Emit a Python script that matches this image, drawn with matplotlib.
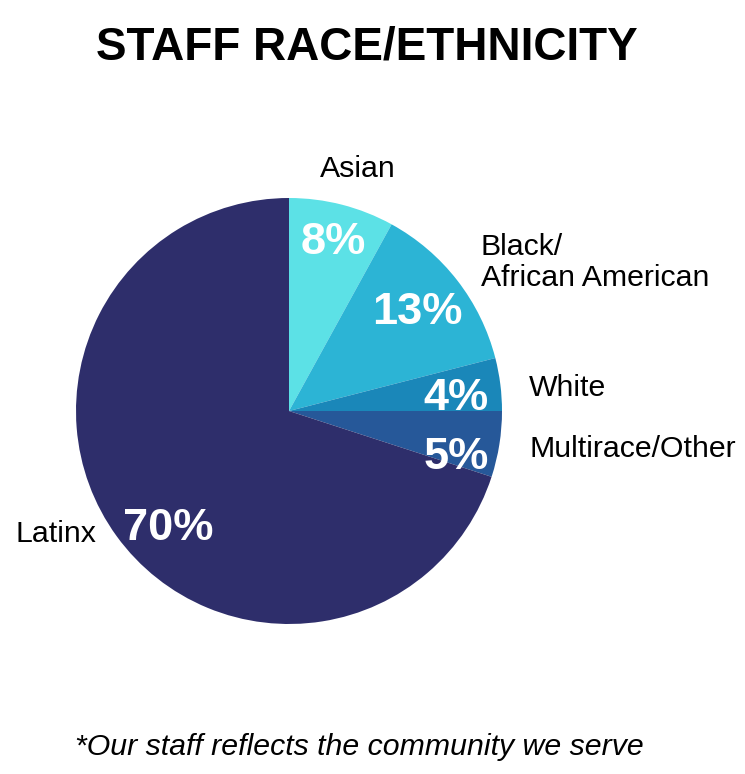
import matplotlib
matplotlib.use('Agg')
import matplotlib.pyplot as plt
import numpy as np

groups = ['Asian', 'Black/\nAfrican American', 'White', 'Multirace/Other', 'Latinx']
shares = [8, 13, 4, 5, 70]
colors = ['#5ce1e6', '#2cb4d5', '#1a87b9', '#265899', '#2e2e6b']

plt.rcParams['font.family'] = ['Liberation Sans', 'DejaVu Sans']

W, H = 745, 774
fig = plt.figure(figsize=(W / 100, H / 100), dpi=100)
cx, cy, r = 289, 411, 213
ax = fig.add_axes([(cx - r) / W, (H - cy - r) / H, 2 * r / W, 2 * r / H])

wedges, _ = ax.pie(shares, colors=colors, startangle=90, counterclock=False,
                   radius=1, wedgeprops=dict(linewidth=0))
ax.set_xlim(-1, 1)
ax.set_ylim(-1, 1)
ax.set_aspect('equal')
ax.axis('off')

# percent labels: (distance from centre, angle shift in degrees)
pct_pos = [(0.84, 0), (0.775, 1), (0.79, -1.5), (0.81, -5), (0.775, 7)]
total = sum(shares)
for w, v, (d, shift) in zip(wedges, shares, pct_pos):
    mid = np.deg2rad((w.theta1 + w.theta2) / 2 + shift)
    ax.text(d * np.cos(mid), d * np.sin(mid), f'{round(100 * v / total)}%',
            color='white', fontsize=32.5, fontweight='bold',
            ha='center', va='center_baseline')

# outer labels
lab_pos = [(0.324, 1.150, 'center'), (0.901, 0.717, 'left'), (1.127, 0.122, 'left'),
           (1.127, -0.164, 'left'), (-1.286, -0.563, 'left')]
for g, (x, y, ha) in zip(groups, lab_pos):
    ax.text(x, y, g, fontsize=21.8, ha=ha, va='center_baseline', linespacing=1.12)

fig.text(367 / W, 1 - 43 / H, 'STAFF RACE/ETHNICITY', fontsize=33,
         fontweight='bold', ha='center', va='center_baseline')
fig.text(359 / W, 1 - 744 / H, '*Our staff reflects the community we serve',
         fontsize=21.8, style='italic', ha='center', va='center_baseline')

fig.savefig('out.png', dpi=100, facecolor='white')
